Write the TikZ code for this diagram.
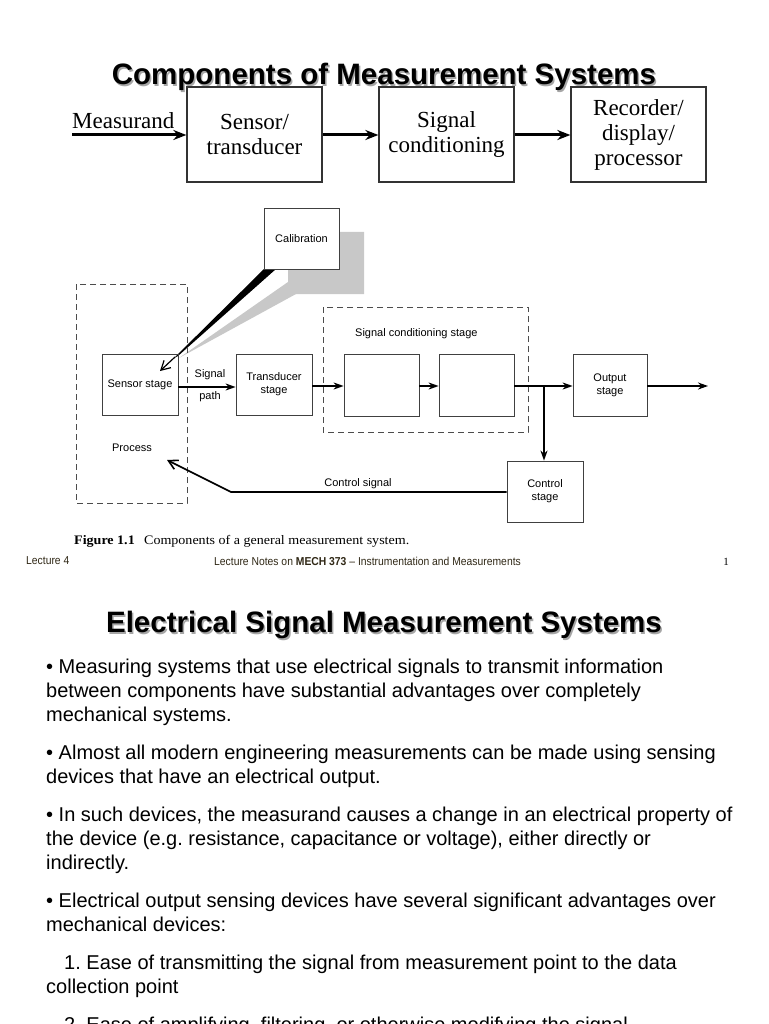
\documentclass[tikz,border=0pt]{standalone}
\usepackage{fontspec}
\usetikzlibrary{arrows.meta}
\newfontfamily\arialf{Liberation Sans}
\newfontfamily\narrowf[FakeStretch=0.9]{Liberation Sans}
\newfontfamily\tnr{Liberation Serif}
\newfontfamily\tnrwide[FakeStretch=1.08]{Liberation Serif}
\definecolor{calgray}{RGB}{200,200,200}
\definecolor{footc}{RGB}{48,40,22}
\frenchspacing
\tikzset{
  topbox/.style={draw=black!80, line width=1.3pt, minimum width=135pt, minimum height=95pt, inner sep=0pt, align=center, font=\tnr\fontsize{23}{25}\selectfont},
  toparrow/.style={line width=3pt, -{Stealth[length=13pt,width=10pt]}},
  lowbox/.style={draw=black!75, line width=0.8pt, minimum width=76pt, minimum height=61pt, inner sep=0pt, align=center, font=\arialf\fontsize{11}{13}\selectfont},
  lowtext/.style={inner sep=0pt, align=center, font=\arialf\fontsize{11}{13}\selectfont},
  sigarrow/.style={line width=2.6pt, -{Stealth[length=10pt,width=7pt]}},
  openarrow/.style={line width=1.6pt, -{Straight Barb[length=9pt,width=10pt]}},
  dashbox/.style={draw=black!70, line width=0.9pt, dash pattern=on 6pt off 4pt},
  title/.style={inner sep=0pt, font=\arialf\bfseries\fontsize{29.5}{34}\selectfont},
  bodyline/.style={anchor=base west, inner sep=0pt, font=\arialf\frenchspacing\fontsize{20}{24}\selectfont},
  footer/.style={inner sep=0pt, font=\narrowf\fontsize{11.5}{13}\selectfont, text=footc},
}
\begin{document}
\begin{tikzpicture}[x=1pt,y=-1pt]
\useasboundingbox (0,0) rectangle (768,1024);
\clip (0,0) rectangle (768,1024);
\fill[white] (0,0) rectangle (768,1024);

% ---------- Title 1
\node[title, text=black!35] at (385.5,78.5) {Components of Measurement Systems};
\node[title] (t1) at (384,77) {Components of Measurement Systems};

% ---------- top block diagram
\node[inner sep=0pt, anchor=west, font=\tnr\fontsize{23}{25}\selectfont] (meas) at (72,121) {Measurand};
\coordinate (measin) at (72,135);
\node[topbox] (sens) at (254.5,134.5) {Sensor/\\transducer};
\node[topbox] (sigc) at (446.5,134.5) {Signal\\conditioning};
\node[topbox] (rec) at (638.5,134.5) {Recorder/\\display/\\processor};
\draw[toparrow] (measin) -- (measin -| sens.west);
\draw[toparrow] (sens.east |- 0,135) -- (sigc.west |- 0,135);
\draw[toparrow] (sigc.east |- 0,135) -- (rec.west |- 0,135);

% ---------- lower diagram
% calibration shadow and beams
\fill[calgray] (339,232) -- (364,232) -- (364,294) -- (288,294) -- (288,269) -- (339,269) -- cycle;
\fill[calgray] (288,282) -- (296,294) -- (179,358) -- cycle;
\fill[black] (264,269) -- (276,269) -- (178,356) -- (174,358) -- cycle;
\node[lowbox, fill=white, minimum width=75pt] (cal) at (301.5,238.5) {Calibration};
\coordinate (calend) at (175,357);
\coordinate (caltip) at (160,371);
\draw[openarrow, line width=1.2pt] (calend) -- (caltip);

% process dashed box
\draw[dashbox] (76,284) rectangle (187,503);
\node[lowbox] (sstage) at (140,384.5) {Sensor stage};
\node[lowtext] (proc) at (132,448) {Process};

\node[lowbox] (tstage) at (274,384.5) {Transducer\\stage};
\draw[sigarrow] (sstage.east |- 0,387) -- (tstage.west |- 0,387);
\node[lowtext] (sigl) at (210,375) {Signal};
\node[lowtext] (pathl) at (210,397) {path};

% signal conditioning stage
\draw[dashbox] (323,307) rectangle (528,432);
\node[lowtext, anchor=west] (scl) at (355,334) {Signal conditioning stage};
\node[lowbox, minimum width=75pt, minimum height=62pt] (b1) at (381.5,385) {};
\node[lowbox, minimum width=75pt, minimum height=62pt] (b2) at (476.5,385) {};
\draw[sigarrow] (tstage.east |- 0,386) -- (b1.west |- 0,386);
\draw[sigarrow] (b1.east |- 0,386) -- (b2.west |- 0,386);

\node[lowbox, minimum width=74pt, minimum height=62pt] (out) at (610,385) {Output\\stage};
\coordinate (junc) at (544,386);
\coordinate (outend) at (708,386);
\draw[sigarrow] (b2.east |- 0,386) -- (out.west |- 0,386);
\draw[sigarrow] (out.east |- 0,386) -- (outend);

\node[lowbox, minimum width=76pt, minimum height=61pt] (ctrl) at (545,491.5) {Control\\stage};
\draw[sigarrow] (junc) -- (junc |- ctrl.north);

\coordinate (bend) at (231,492);
\coordinate (proctip) at (167,460);
\draw[openarrow] (ctrl.west |- 0,492) -- (bend) -- (proctip);
\node[lowtext] (csl) at (358,484) {Control signal};

% caption and footer
\node[inner sep=0pt, anchor=west, font=\tnrwide\fontsize{13}{15}\selectfont] (cap) at (74,541) {\textbf{Figure 1.1}\hspace{0.45em} Components of a general measurement system.};
\node[footer, anchor=west] (f1) at (26,561) {Lecture 4};
\node[footer, anchor=west] (f2) at (214,561) {Lecture Notes on \textbf{MECH 373} – Instrumentation and Measurements};
\node[inner sep=0pt, font=\tnr\fontsize{11}{13}\selectfont] (f3) at (726,562) {1};

% ---------- Title 2
\node[title, text=black!35] at (385.5,626.5) {Electrical Signal Measurement Systems};
\node[title] (t2) at (384,625) {Electrical Signal Measurement Systems};

% ---------- body text
\node[bodyline] (l1) at (46,673) {• Measuring systems that use electrical signals to transmit information};
\node[bodyline] (l2) at (46,697) {between components have substantial advantages over completely};
\node[bodyline] (l3) at (46,721) {mechanical systems.};
\node[bodyline] (l4) at (46,759) {• Almost all modern engineering measurements can be made using sensing};
\node[bodyline] (l5) at (46,783) {devices that have an electrical output.};
\node[bodyline] (l6) at (46,821) {• In such devices, the measurand causes a change in an electrical property of};
\node[bodyline] (l7) at (46,845) {the device (e.g. resistance, capacitance or voltage), either directly or};
\node[bodyline] (l8) at (46,869) {indirectly.};
\node[bodyline] (l9) at (46,907) {• Electrical output sensing devices have several significant advantages over};
\node[bodyline] (l10) at (46,931) {mechanical devices:};
\node[bodyline] (l11) at (64,969) {1. Ease of transmitting the signal from measurement point to the data};
\node[bodyline] (l12) at (46,993) {collection point};
\node[bodyline] (l13) at (64,1031) {2. Ease of amplifying, filtering, or otherwise modifying the signal};
\end{tikzpicture}
\end{document}
